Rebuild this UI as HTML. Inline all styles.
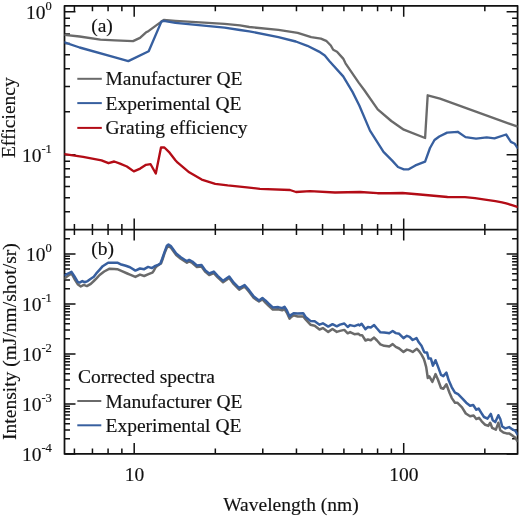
<!DOCTYPE html>
<html><head><meta charset="utf-8"><title>Efficiency and corrected spectra</title>
<style>html,body{margin:0;padding:0;background:#fff;}body{width:520px;height:517px;overflow:hidden;}svg{display:block;}</style>
</head><body><svg width="520" height="517" viewBox="0 0 520 517"><defs><clipPath id="ca"><rect x="64.5" y="5.8" width="453.1" height="223.79999999999998"/></clipPath><clipPath id="cb"><rect x="64.5" y="229.6" width="453.1" height="224.29999999999998"/></clipPath></defs><path d="M74.41 5.8v5.5 M74.41 229.6v-5.5 M74.41 229.6v5.5 M74.41 453.9v-5.5 M92.45 5.8v5.5 M92.45 229.6v-5.5 M92.45 229.6v5.5 M92.45 453.9v-5.5 M108.08 5.8v5.5 M108.08 229.6v-5.5 M108.08 229.6v5.5 M108.08 453.9v-5.5 M121.87 5.8v5.5 M121.87 229.6v-5.5 M121.87 229.6v5.5 M121.87 453.9v-5.5 M215.33 5.8v5.5 M215.33 229.6v-5.5 M215.33 229.6v5.5 M215.33 453.9v-5.5 M262.78 5.8v5.5 M262.78 229.6v-5.5 M262.78 229.6v5.5 M262.78 453.9v-5.5 M296.46 5.8v5.5 M296.46 229.6v-5.5 M296.46 229.6v5.5 M296.46 453.9v-5.5 M322.57 5.8v5.5 M322.57 229.6v-5.5 M322.57 229.6v5.5 M322.57 453.9v-5.5 M343.91 5.8v5.5 M343.91 229.6v-5.5 M343.91 229.6v5.5 M343.91 453.9v-5.5 M361.95 5.8v5.5 M361.95 229.6v-5.5 M361.95 229.6v5.5 M361.95 453.9v-5.5 M377.58 5.8v5.5 M377.58 229.6v-5.5 M377.58 229.6v5.5 M377.58 453.9v-5.5 M391.37 5.8v5.5 M391.37 229.6v-5.5 M391.37 229.6v5.5 M391.37 453.9v-5.5 M484.83 5.8v5.5 M484.83 229.6v-5.5 M484.83 229.6v5.5 M484.83 453.9v-5.5 M134.20 5.8v11 M134.20 229.6v-11 M134.20 229.6v11 M134.20 453.9v-11 M403.70 5.8v11 M403.70 229.6v-11 M403.70 229.6v11 M403.70 453.9v-11 M64.5 211.71h5.5 M517.6 211.71h-5.5 M64.5 197.85h5.5 M517.6 197.85h-5.5 M64.5 186.52h5.5 M517.6 186.52h-5.5 M64.5 176.95h5.5 M517.6 176.95h-5.5 M64.5 168.66h5.5 M517.6 168.66h-5.5 M64.5 161.34h5.5 M517.6 161.34h-5.5 M64.5 154.80h11 M517.6 154.80h-11 M64.5 111.75h5.5 M517.6 111.75h-5.5 M64.5 86.57h5.5 M517.6 86.57h-5.5 M64.5 68.71h5.5 M517.6 68.71h-5.5 M64.5 54.85h5.5 M517.6 54.85h-5.5 M64.5 43.52h5.5 M517.6 43.52h-5.5 M64.5 33.95h5.5 M517.6 33.95h-5.5 M64.5 25.66h5.5 M517.6 25.66h-5.5 M64.5 18.34h5.5 M517.6 18.34h-5.5 M64.5 11.80h11 M517.6 11.80h-11 M64.5 453.90h11 M517.6 453.90h-11 M64.5 438.85h5.5 M517.6 438.85h-5.5 M64.5 430.04h5.5 M517.6 430.04h-5.5 M64.5 423.80h5.5 M517.6 423.80h-5.5 M64.5 418.95h5.5 M517.6 418.95h-5.5 M64.5 414.99h5.5 M517.6 414.99h-5.5 M64.5 411.65h5.5 M517.6 411.65h-5.5 M64.5 408.75h5.5 M517.6 408.75h-5.5 M64.5 406.19h5.5 M517.6 406.19h-5.5 M64.5 403.90h11 M517.6 403.90h-11 M64.5 388.85h5.5 M517.6 388.85h-5.5 M64.5 380.04h5.5 M517.6 380.04h-5.5 M64.5 373.80h5.5 M517.6 373.80h-5.5 M64.5 368.95h5.5 M517.6 368.95h-5.5 M64.5 364.99h5.5 M517.6 364.99h-5.5 M64.5 361.65h5.5 M517.6 361.65h-5.5 M64.5 358.75h5.5 M517.6 358.75h-5.5 M64.5 356.19h5.5 M517.6 356.19h-5.5 M64.5 353.90h11 M517.6 353.90h-11 M64.5 338.85h5.5 M517.6 338.85h-5.5 M64.5 330.04h5.5 M517.6 330.04h-5.5 M64.5 323.80h5.5 M517.6 323.80h-5.5 M64.5 318.95h5.5 M517.6 318.95h-5.5 M64.5 314.99h5.5 M517.6 314.99h-5.5 M64.5 311.65h5.5 M517.6 311.65h-5.5 M64.5 308.75h5.5 M517.6 308.75h-5.5 M64.5 306.19h5.5 M517.6 306.19h-5.5 M64.5 303.90h11 M517.6 303.90h-11 M64.5 288.85h5.5 M517.6 288.85h-5.5 M64.5 280.04h5.5 M517.6 280.04h-5.5 M64.5 273.80h5.5 M517.6 273.80h-5.5 M64.5 268.95h5.5 M517.6 268.95h-5.5 M64.5 264.99h5.5 M517.6 264.99h-5.5 M64.5 261.65h5.5 M517.6 261.65h-5.5 M64.5 258.75h5.5 M517.6 258.75h-5.5 M64.5 256.19h5.5 M517.6 256.19h-5.5 M64.5 253.90h11 M517.6 253.90h-11 M64.5 238.85h5.5 M517.6 238.85h-5.5" stroke="#111" stroke-width="1.5" fill="none"/><path d="M64.5 5.8H517.6V453.9H64.5Z M64.5 229.6H517.6" stroke="#111" stroke-width="1.75" fill="none" stroke-linejoin="round"/><g clip-path="url(#ca)"><polyline points="64.5,34.8 79.6,36.5 100.4,39.6 115.0,40.4 133.0,41.1 140.0,37.9 145.8,32.6 148.7,30.9 161.4,21.6 163.8,20.0 175.4,20.8 224.6,23.8 240.0,25.4 249.3,27.0 278.4,29.9 297.7,32.8 311.2,37.1 320.9,38.6 326.2,40.8 330.8,45.5 333.2,49.8 337.0,51.7 343.2,58.6 345.5,63.3 358.7,82.6 364.2,90.0 377.7,109.3 391.3,121.0 403.8,129.7 425.1,138.0 427.7,95.3 440.0,98.7 517.0,126.4" fill="none" stroke="#6a6a6a" stroke-width="2.35" stroke-linejoin="round" stroke-linecap="round"/><polyline points="64.5,42.3 79.6,47.5 115.0,57.3 128.3,61.1 148.7,51.2 161.4,21.6 163.8,20.8 175.4,22.9 224.6,27.7 240.0,30.0 249.3,31.3 278.4,37.1 295.8,41.5 307.4,45.8 319.0,51.6 324.8,55.5 329.3,61.0 343.2,76.4 352.5,91.9 359.3,105.5 370.0,130.6 383.5,151.9 392.2,160.6 398.0,167.0 403.8,169.3 408.7,169.3 415.4,165.4 425.1,161.6 430.0,148.0 434.5,140.0 439.3,136.5 447.1,132.6 457.7,131.8 465.5,137.1 476.1,138.6 486.7,137.4 494.5,138.4 506.1,134.5 510.9,141.9 514.8,143.8 517.3,147.7" fill="none" stroke="#375f9f" stroke-width="2.35" stroke-linejoin="round" stroke-linecap="round"/><polyline points="64.5,154.2 83.1,156.9 101.5,160.4 108.5,163.2 114.2,161.5 120.0,163.7 126.9,166.5 133.8,171.4 140.2,168.6 146.0,164.8 150.6,164.2 155.8,173.5 161.0,147.5 164.4,147.5 169.6,152.7 175.4,160.2 177.7,162.7 189.2,172.3 201.7,179.6 215.2,183.8 227.7,185.4 246.9,187.3 260.0,188.8 290.0,190.0 296.0,192.0 310.0,191.2 335.0,192.5 360.0,192.0 377.5,193.2 390.0,193.2 402.5,193.0 420.0,194.5 447.5,197.0 465.0,197.2 475.0,198.2 485.0,199.6 495.4,201.2 502.0,202.4 506.2,203.4 512.0,205.1 517.3,206.8" fill="none" stroke="#b30c16" stroke-width="2.35" stroke-linejoin="round" stroke-linecap="round"/></g><g clip-path="url(#cb)"><polyline points="64.5,278.4 67.0,276.5 71.5,273.4 74.5,279.0 77.7,284.2 80.8,286.5 83.8,284.9 86.9,286.1 90.8,283.8 93.8,281.0 96.5,278.3 99.6,275.0 104.2,271.5 109.6,268.7 114.2,269.0 117.3,269.2 121.9,271.2 127.3,273.5 130.0,274.6 135.4,276.9 140.0,274.6 144.2,276.0 148.5,274.2 152.3,272.7 153.8,270.8 155.4,267.7 156.9,266.2 159.0,264.8 161.0,263.5 162.5,259.5 164.6,253.0 166.9,247.5 168.5,246.0 170.8,247.6 176.2,255.0 180.8,258.8 186.9,262.7 189.2,261.4 192.3,263.0 196.9,267.0 201.5,266.5 205.4,271.9 209.2,275.0 213.8,273.1 217.7,277.3 223.1,282.3 229.2,278.0 233.8,284.2 239.2,289.6 244.6,286.5 249.2,291.9 253.8,298.0 259.0,301.5 262.4,299.5 265.4,302.6 268.7,305.9 272.8,309.6 278.2,309.3 282.2,310.3 284.5,309.0 286.9,312.7 289.6,318.7 291.6,316.7 293.6,315.4 297.7,316.5 303.2,316.5 305.6,319.4 310.4,324.7 314.7,325.7 319.5,329.5 322.9,328.1 328.2,331.9 332.5,329.0 336.8,331.9 340.0,330.9 344.3,329.9 347.7,333.3 350.1,332.1 354.4,334.2 358.3,333.8 360.2,335.2 362.1,335.2 365.5,340.5 367.9,339.5 370.8,340.2 374.1,337.6 377.0,340.5 380.4,344.3 384.2,345.8 388.1,346.3 389.2,346.5 392.7,344.1 395.8,346.9 399.2,348.5 403.5,351.9 406.9,349.6 409.6,350.4 412.7,351.9 416.9,348.8 418.8,350.8 421.5,354.6 423.8,358.8 424.7,361.7 426.2,367.1 427.8,378.0 429.3,376.4 432.4,381.9 435.5,374.1 437.9,379.5 441.0,388.0 443.3,388.8 446.4,384.2 449.5,392.7 451.8,398.1 455.0,402.7 457.3,402.7 462.0,407.3 465.8,413.5 470.1,416.3 473.6,415.5 476.3,419.0 479.0,417.8 481.7,421.3 485.2,424.8 488.3,425.9 490.2,422.7 492.1,427.8 495.9,429.7 498.4,422.7 500.3,430.3 503.4,432.5 506.6,433.4 509.1,433.4 512.9,435.9 515.4,437.8 517.3,441.0" fill="none" stroke="#6a6a6a" stroke-width="2.5" stroke-linejoin="round" stroke-linecap="round"/><polyline points="64.5,275.3 67.0,274.0 71.5,271.8 74.5,276.5 77.7,281.8 79.6,282.6 82.3,281.1 84.6,282.2 87.7,281.1 90.8,278.8 93.8,276.8 96.3,273.4 99.5,269.8 102.7,266.2 108.1,262.7 112.7,262.7 117.3,262.7 120.4,264.2 125.8,265.8 130.0,267.3 135.4,270.6 140.0,268.5 144.2,269.2 148.1,266.9 151.9,268.1 155.4,265.8 158.5,264.6 160.4,263.5 162.3,258.5 164.6,251.9 166.9,245.8 168.5,244.5 170.8,246.1 176.2,253.5 180.8,257.3 186.9,261.2 189.2,259.9 192.3,261.5 196.9,265.5 201.5,265.0 205.4,270.4 209.2,273.5 213.8,271.6 217.7,275.8 223.1,280.8 229.2,276.5 233.8,282.7 239.2,288.1 244.6,285.0 249.2,290.4 253.8,296.5 259.0,300.5 262.4,298.1 265.4,300.4 268.7,303.7 272.8,307.4 278.2,307.1 282.2,308.1 284.5,306.8 286.9,310.5 289.6,316.5 291.6,314.5 293.6,313.2 297.7,313.6 303.2,313.2 305.6,317.0 310.4,320.9 314.7,321.3 319.5,324.7 322.9,323.3 328.2,326.6 332.5,324.2 336.8,326.3 340.0,324.6 344.3,323.5 347.7,327.0 350.1,325.1 354.4,326.1 358.3,324.6 359.7,325.4 361.6,323.8 365.5,329.2 367.9,327.0 370.8,327.5 374.1,325.1 377.0,328.5 380.4,332.3 384.2,332.5 388.1,333.1 389.2,333.3 392.7,331.0 395.8,333.1 399.2,333.8 403.5,338.1 406.9,335.8 409.6,336.9 412.7,340.0 416.5,338.1 418.8,342.3 421.5,345.8 424.2,351.9 424.7,352.4 427.0,352.4 428.6,358.6 430.9,358.6 432.9,365.6 435.5,360.2 437.9,366.4 441.0,374.9 443.3,376.1 446.4,372.6 448.7,380.3 451.8,387.3 455.0,392.6 458.1,394.2 462.7,398.8 466.2,402.7 470.1,405.8 473.2,405.0 476.3,409.7 478.6,408.5 481.3,412.8 484.0,417.0 487.5,418.6 490.8,413.9 492.7,420.2 495.3,422.1 498.4,415.2 500.3,419.0 502.2,426.5 505.3,428.4 509.1,427.1 512.9,429.7 515.4,430.9 517.3,434.1" fill="none" stroke="#375f9f" stroke-width="2.5" stroke-linejoin="round" stroke-linecap="round"/></g><path d="M77.3 78.8H101.8" stroke="#6a6a6a" stroke-width="2"/><path d="M77.3 103.1H101.8" stroke="#375f9f" stroke-width="2"/><path d="M77.3 127.9H101.8" stroke="#b30c16" stroke-width="2"/><path d="M77.3 401H101.3" stroke="#6a6a6a" stroke-width="2"/><path d="M77.3 425.3H101.3" stroke="#375f9f" stroke-width="2"/><g fill="#111" stroke="#111" stroke-width="0.15" style="font-family:'Liberation Serif',serif"><text x="105.5" y="85.2" font-size="19.5" text-anchor="start" >Manufacturer QE</text><text x="105.5" y="109.8" font-size="19.5" text-anchor="start" >Experimental QE</text><text x="105.5" y="134.4" font-size="19.5" text-anchor="start" >Grating efficiency</text><text x="91.2" y="32.3" font-size="19.5" text-anchor="start" >(a)</text><text x="91.2" y="254.5" font-size="19.5" text-anchor="start" >(b)</text><text x="78" y="382.8" font-size="19.5" text-anchor="start" >Corrected spectra</text><text x="105.5" y="407.5" font-size="19.5" text-anchor="start" >Manufacturer QE</text><text x="105.5" y="431.8" font-size="19.5" text-anchor="start" >Experimental QE</text><text x="51.8" y="18.5" font-size="19.5" text-anchor="end">10<tspan dy="-8.2" font-size="12.5">0</tspan></text><text x="51.8" y="161.5" font-size="19.5" text-anchor="end">10<tspan dy="-8.2" font-size="12.5">-1</tspan></text><text x="51.8" y="260.6" font-size="19.5" text-anchor="end">10<tspan dy="-8.2" font-size="12.5">0</tspan></text><text x="51.8" y="310.6" font-size="19.5" text-anchor="end">10<tspan dy="-8.2" font-size="12.5">-1</tspan></text><text x="51.8" y="360.6" font-size="19.5" text-anchor="end">10<tspan dy="-8.2" font-size="12.5">-2</tspan></text><text x="51.8" y="410.6" font-size="19.5" text-anchor="end">10<tspan dy="-8.2" font-size="12.5">-3</tspan></text><text x="51.8" y="460.6" font-size="19.5" text-anchor="end">10<tspan dy="-8.2" font-size="12.5">-4</tspan></text><text x="134.6" y="480.8" font-size="19.5" text-anchor="middle" >10</text><text x="403.9" y="480.8" font-size="19.5" text-anchor="middle" >100</text><text x="291" y="511.3" font-size="19.5" text-anchor="middle" >Wavelength (nm)</text><text transform="translate(15.3 117.7) rotate(-90)" font-size="19.5" text-anchor="middle">Efficiency</text><text transform="translate(15.6 341.6) rotate(-90)" font-size="19.5" text-anchor="middle">Intensity (mJ/nm/shot/sr)</text></g></svg></body></html>
